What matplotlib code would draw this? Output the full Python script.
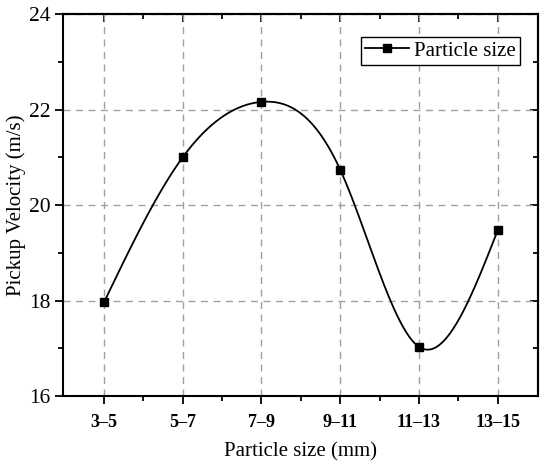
import numpy as np
import matplotlib
matplotlib.use('Agg')
import matplotlib.pyplot as plt
from matplotlib.ticker import MultipleLocator, FixedLocator

plt.rcParams['font.family'] = ['Liberation Serif', 'DejaVu Serif']

# datos
categorias = ['3–5', '5–7', '7–9', '9–11', '11–13', '13–15']
velocidad = [17.96, 21.00, 22.16, 20.74, 17.03, 19.47]
etiqueta_serie = 'Particle size'


def spline_natural(x, y, xs):
    # spline cúbico natural, para dibujar la curva suave como en Origin
    x = np.asarray(x, float)
    y = np.asarray(y, float)
    n = len(x)
    h = np.diff(x)
    A = np.zeros((n, n))
    b = np.zeros(n)
    A[0, 0] = 1
    A[-1, -1] = 1
    for i in range(1, n - 1):
        A[i, i - 1] = h[i - 1]
        A[i, i] = 2 * (h[i - 1] + h[i])
        A[i, i + 1] = h[i]
        b[i] = 3 * ((y[i + 1] - y[i]) / h[i] - (y[i] - y[i - 1]) / h[i - 1])
    c = np.linalg.solve(A, b)
    ys = np.empty_like(xs)
    for k, xv in enumerate(xs):
        i = min(max(np.searchsorted(x, xv) - 1, 0), n - 2)
        dx = xv - x[i]
        bi = (y[i + 1] - y[i]) / h[i] - h[i] * (2 * c[i] + c[i + 1]) / 3
        di = (c[i + 1] - c[i]) / (3 * h[i])
        ys[k] = y[i] + bi * dx + c[i] * dx ** 2 + di * dx ** 3
    return ys


pos = np.arange(len(categorias))
xs = np.linspace(pos[0], pos[-1], 400)
ys = spline_natural(pos, velocidad, xs)

fig = plt.figure(figsize=(5.5, 4.68), dpi=100)
ax = fig.add_axes([0.1145, 0.1538, 0.8635, 0.8162])

ax.plot(xs, ys, color='black', lw=1.3, zorder=3)
ax.plot(pos, velocidad, 's', color='black', ms=5.5, zorder=4)
ax.plot([], [], '-s', color='black', lw=1.3, ms=5.5, label=etiqueta_serie)

ax.set_xlim(-0.52, 5.51)
ax.set_ylim(16, 24)
ax.set_xticks(pos)
ax.set_xticklabels(categorias, fontweight='bold', fontsize=13)
ax.xaxis.set_minor_locator(FixedLocator(pos[:-1] + 0.5))
ax.yaxis.set_major_locator(MultipleLocator(2))
ax.yaxis.set_minor_locator(MultipleLocator(1))
ax.tick_params(axis='y', labelsize=15.5, pad=3)
ax.tick_params(which='major', direction='out', length=6, width=1.3)
ax.tick_params(which='minor', direction='out', length=3.5, width=1.3)
ax.tick_params(axis='x', pad=7)

# ticks hacia adentro en los ejes superior y derecho
arriba = ax.secondary_xaxis('top')
arriba.set_xticks(pos)
arriba.xaxis.set_minor_locator(FixedLocator(pos[:-1] + 0.5))
arriba.tick_params(which='both', direction='in', labeltop=False, width=1.3)
arriba.tick_params(which='major', length=6)
arriba.tick_params(which='minor', length=3.5)
derecha = ax.secondary_yaxis('right')
derecha.yaxis.set_major_locator(MultipleLocator(2))
derecha.yaxis.set_minor_locator(MultipleLocator(1))
derecha.tick_params(which='both', direction='in', labelright=False, width=1.3)
derecha.tick_params(which='major', length=6)
derecha.tick_params(which='minor', length=3.5)

for lado in ['left', 'bottom', 'top', 'right']:
    ax.spines[lado].set_linewidth(1.5)
arriba.spines['top'].set_linewidth(1.5)
derecha.spines['right'].set_linewidth(1.5)

ax.grid(True, color='#a0a0a0', linestyle=(0, (5, 4)), lw=1)

ax.set_xlabel('Particle size (mm)', fontsize=15, labelpad=8)
ax.set_ylabel('Pickup Velocity (m/s)', fontsize=15, labelpad=2)

leg = ax.legend(loc='upper right', bbox_to_anchor=(0.962, 0.94), fontsize=15,
                fancybox=False, framealpha=1, edgecolor='black',
                handlelength=2.1, borderpad=0.2, handletextpad=0.25,
                borderaxespad=0)
leg.get_frame().set_linewidth(1)

plt.savefig('out.png', dpi=100)
